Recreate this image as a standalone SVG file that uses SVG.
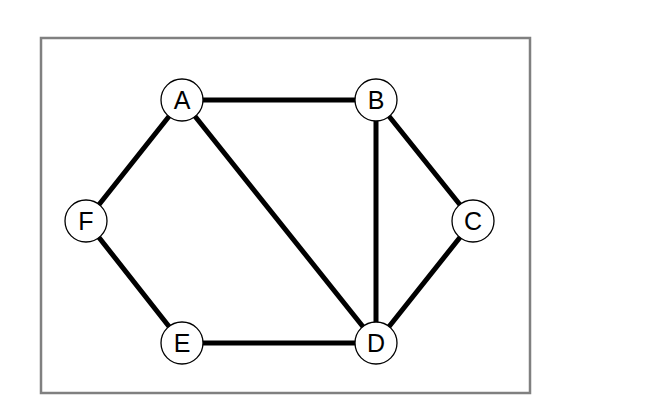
<svg xmlns="http://www.w3.org/2000/svg" width="645" height="420" viewBox="0 0 645 420">
<style>
.e{stroke:#000;stroke-width:5;stroke-linecap:round}
.n circle{fill:#fff;stroke:#000;stroke-width:1.3}
.n text{font-family:"Liberation Sans",Arial,sans-serif;font-size:25px;text-anchor:middle;dominant-baseline:central}
</style>
<rect width="645" height="420" fill="#fff"/>
<rect x="41" y="38" width="489" height="355" fill="none" stroke="#808080" stroke-width="2.5"/>
<g id="edges">
<line class="e" x1="182" y1="100" x2="376" y2="100"/>
<line class="e" x1="182" y1="100" x2="86" y2="221"/>
<line class="e" x1="182" y1="100" x2="376" y2="343"/>
<line class="e" x1="376" y1="100" x2="376" y2="343"/>
<line class="e" x1="376" y1="100" x2="473" y2="221"/>
<line class="e" x1="473" y1="221" x2="376" y2="343"/>
<line class="e" x1="86" y1="221" x2="182" y2="343"/>
<line class="e" x1="182" y1="343" x2="376" y2="343"/>
</g>
<g id="A" class="n"><circle cx="182" cy="100" r="21"/><text x="182" y="100">A</text></g>
<g id="B" class="n"><circle cx="376" cy="100" r="21"/><text x="376" y="100">B</text></g>
<g id="C" class="n"><circle cx="473" cy="221" r="21"/><text x="473" y="221">C</text></g>
<g id="F" class="n"><circle cx="86" cy="221" r="21"/><text x="86" y="221">F</text></g>
<g id="E" class="n"><circle cx="182" cy="343" r="21"/><text x="182" y="343">E</text></g>
<g id="D" class="n"><circle cx="376" cy="343" r="21"/><text x="376" y="343">D</text></g>
</svg>
